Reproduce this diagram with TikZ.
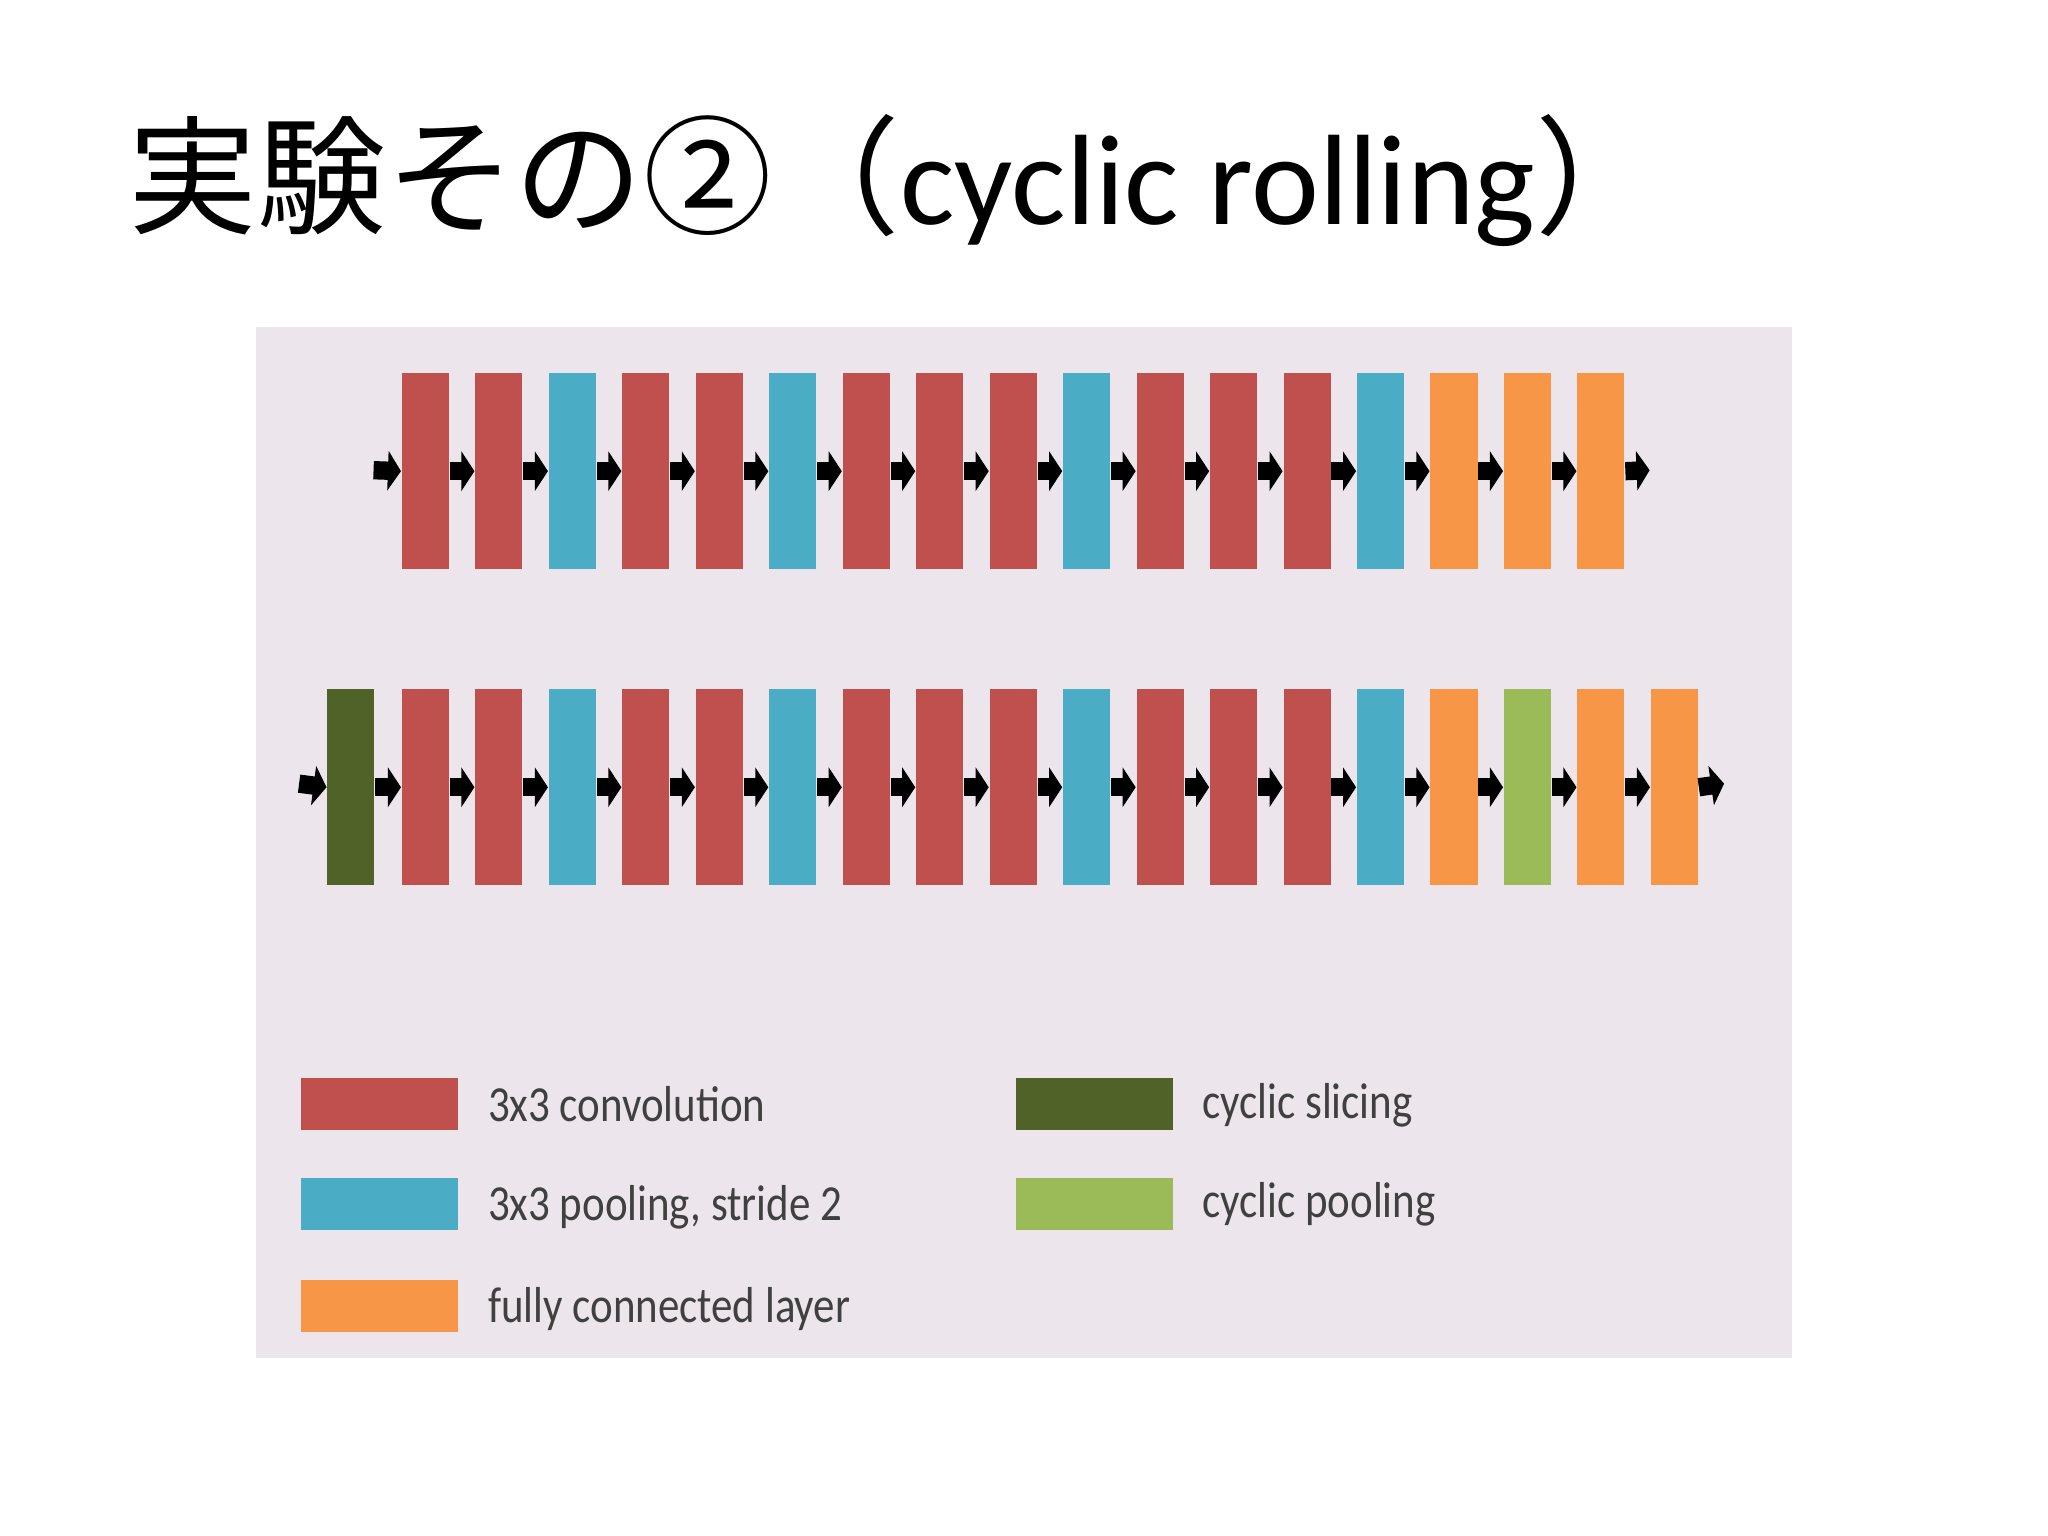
\documentclass[tikz,border=0pt]{standalone}
\usepackage{fontspec}
\setmainfont{Carlito}
\newfontfamily\jpfont{Noto Sans CJK JP}
\newfontfamily\legfont[FakeStretch=0.85]{Carlito}
\usetikzlibrary{arrows.meta}
\definecolor{cR}{HTML}{C0504D}
\definecolor{cB}{HTML}{4BACC6}
\definecolor{cO}{HTML}{F79646}
\definecolor{cD}{HTML}{4F6228}
\definecolor{cL}{HTML}{9BBB59}
\definecolor{panel}{HTML}{ECE6EC}
\definecolor{ltxt}{HTML}{404040}
\tikzset{
  bar/.style={fill=#1,draw=none,minimum width=0.36cm,minimum height=1.5cm,inner sep=0,anchor=north west},
  sw/.style={fill=#1,draw=none,minimum width=1.2cm,minimum height=0.4cm,inner sep=0,anchor=west},
  lab/.style={anchor=west,text=ltxt,font=\legfont\fontsize{11}{13}\selectfont,inner sep=0},
  arr/.style={-{Triangle[length=1.0mm,width=3mm]},line width=1.4mm,black}
}
\begin{document}
\begin{tikzpicture}[x=0.01cm,y=-0.01cm]
\useasboundingbox[fill=white] (0,0) rectangle (1568,1176);
\fill[panel] (196,250) rectangle (1372,1040);
\node[anchor=base west,inner sep=0,font=\fontsize{28}{32}\selectfont] (title) at (98,172) {{\jpfont 実験その②（}cyclic rolling{\jpfont ）}};
% top row
\foreach \c [count=\i] in {cR,cR,cB,cR,cR,cB,cR,cR,cR,cB,cR,cR,cR,cB,cO,cO,cO}{
  \node[bar=\c] (t\i) at ({307+56.25*(\i-1)},285) {};
}
\coordinate (tin) at (286,360);
\coordinate (tout) at (1263,360);
\draw[arr] (tin) -- (t1.west);
\foreach \i [evaluate=\i as \j using int(\i+1)] in {1,...,16}{
  \draw[arr] (t\i.east) -- (t\j.west);
}
\draw[arr] (t17.east) -- (tout);
% bottom row
\node[bar=cD] (b0) at (250,527) {};
\foreach \c [count=\i] in {cR,cR,cB,cR,cR,cB,cR,cR,cR,cB,cR,cR,cR,cB,cO,cL,cO,cO}{
  \node[bar=\c] (b\i) at ({307+56.25*(\i-1)},527) {};
}
\coordinate (bin) at (229,600);
\coordinate (bout) at (1320,600);
\draw[arr] (bin) -- (b0.west);
\foreach \i [evaluate=\i as \j using int(\i+1)] in {0,...,17}{
  \draw[arr] (b\i.east) -- (b\j.west);
}
\draw[arr] (b18.east) -- (bout);
% legend
\node[sw=cR] (l1) at (230,845) {};
\node[lab] (l1t) at (373,845) {3x3 convolution};
\node[sw=cB] (l2) at (230,922) {};
\node[lab] (l2t) at (373,924) {3x3 pooling, stride 2};
\node[sw=cO] (l3) at (230,1000) {};
\node[lab] (l3t) at (373,1002) {fully connected layer};
\node[sw=cD] (l4) at (777,845) {};
\node[lab] (l4t) at (920,846) {cyclic slicing};
\node[sw=cL] (l5) at (777,922) {};
\node[lab] (l5t) at (920,922) {cyclic pooling};
\end{tikzpicture}
\end{document}
